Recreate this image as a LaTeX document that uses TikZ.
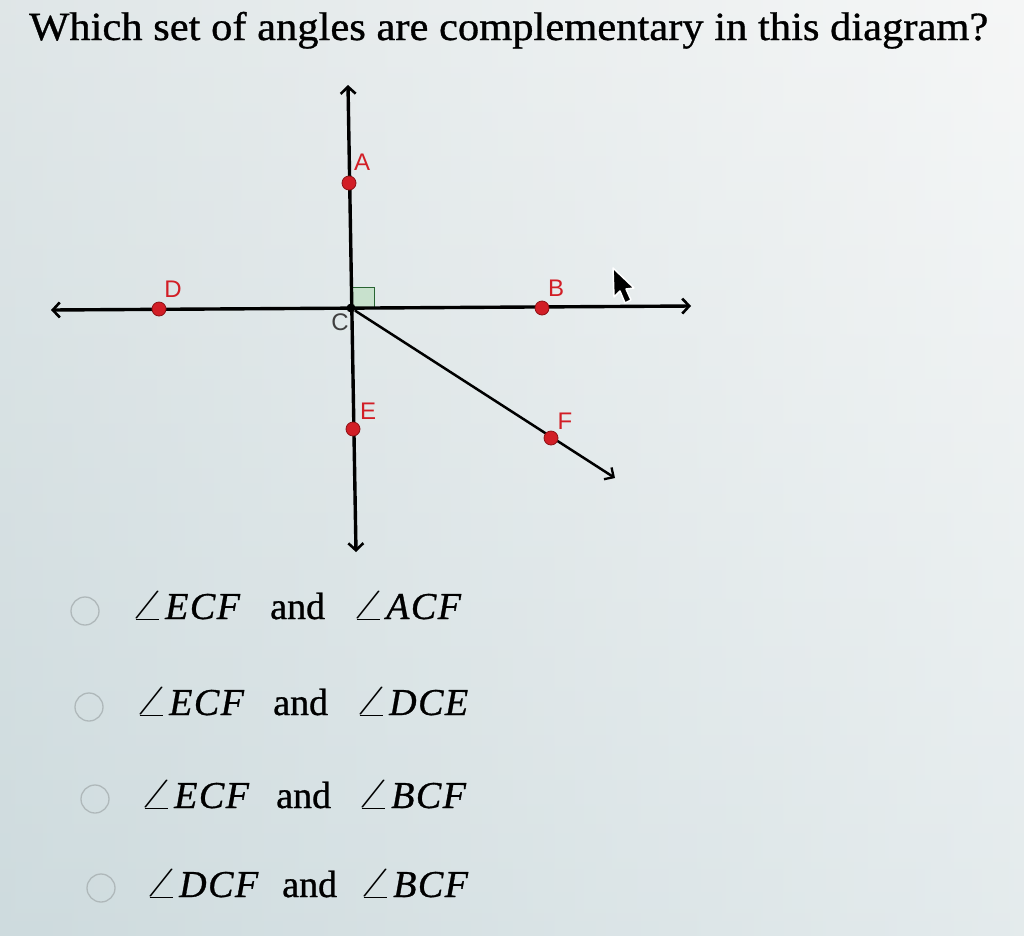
\documentclass[tikz,border=0pt]{standalone}
\usepackage{fontspec}
\setmainfont{Liberation Serif}
\newfontfamily\heavyfont{Liberation Serif}[FakeBold=0.8]
\newfontfamily\labelfont{Liberation Sans}
\usetikzlibrary{arrows.meta}
\definecolor{ptred}{RGB}{210,30,38}
\definecolor{ptdark}{RGB}{140,18,22}
\definecolor{bgtop}{RGB}{238,240,240}
\definecolor{bgbot}{RGB}{206,219,222}
\definecolor{boxfill}{RGB}{200,225,205}
\definecolor{boxline}{RGB}{40,100,50}
\definecolor{radio}{RGB}{175,184,186}
\newcommand{\angsym}{\resizebox{36pt}{27pt}{$\angle$}}
\tikzset{
  biaxis/.style={line width=3.4pt, {Straight Barb[length=7pt,width=15pt,line width=2.6pt]}-{Straight Barb[length=7pt,width=15pt,line width=2.6pt]}},
  rayline/.style={line width=2.5pt, -{Straight Barb[length=7pt,width=14pt,line width=2.3pt]}},
  pt/.style={circle, fill=ptred, draw=ptdark, line width=0.8pt, minimum size=14pt, inner sep=0pt},
  ptlabel/.style={font=\labelfont\fontsize{24}{24}\selectfont, text=ptred, inner sep=0pt},
  radiobtn/.style={circle, draw=radio, line width=1.3pt, minimum size=28pt, inner sep=0pt},
  opt/.style={font=\heavyfont\fontsize{38}{40}\selectfont, anchor=base west, inner sep=0pt},
}
\begin{document}
\begin{tikzpicture}[x=1pt,y=-1pt]
\useasboundingbox (0,0) rectangle (1024,935);
\shade[top color=bgtop, bottom color=bgbot] (0,0) rectangle (1024,935);
\shade[left color=bgbot, right color=white, opacity=0.45] (0,0) rectangle (1024,935);

% title
\node[anchor=base west, inner sep=0pt] (title) at (29,40)
  {\resizebox{959pt}{\height}{\heavyfont\fontsize{40}{42}\selectfont Which set of angles are complementary in this diagram?}};

% coordinates
\coordinate (top) at (348,85);
\coordinate (bot) at (356,552);
\coordinate (lft) at (51,310);
\coordinate (rgt) at (691,306);
\coordinate (rayend) at (615,478);

% right angle mark
\draw[boxline, fill=boxfill, line width=1pt] (351,308) -- (351,287) -- (374,287) -- (374,308);

% lines
\draw[biaxis] (lft) -- (rgt);
\draw[biaxis] (top) -- (bot);
\node[circle, fill=black, minimum size=9pt, inner sep=0pt] (C) at (351,308) {};
\draw[rayline] (C) -- (rayend);

% points
\node[pt] (A) at (349,183) {};
\node[pt] (D) at (159,309) {};
\node[pt] (B) at (542,308) {};
\node[pt] (E) at (353,429) {};
\node[pt] (F) at (551,438) {};

\node[ptlabel] (lA) at (362,162) {A};
\node[ptlabel] (lD) at (173,289) {D};
\node[ptlabel] (lB) at (556,288) {B};
\node[ptlabel] (lE) at (368,411) {E};
\node[ptlabel] (lF) at (565,421) {F};
\node[ptlabel, text=black!75] (lC) at (340,322) {C};

% cursor
\draw[fill=black, draw=white, line width=1.5pt, line join=round]
  (613,268) -- (614,297) -- (620,291) -- (625,303) -- (631,300) -- (626,289) -- (634,288) -- cycle;

% options
\node[radiobtn] (r1) at (85,611) {};
\node[radiobtn] (r2) at (89,707) {};
\node[radiobtn] (r3) at (95,799) {};
\node[radiobtn] (r4) at (101,888) {};

\node[opt] (o1a) at (129,619) {\angsym\kern0pt\textit{E\kern1.5pt C\kern1.5pt F}};
\node[opt] (o1b) at (270,619) {and};
\node[opt] (o1c) at (350,619) {\angsym\kern0pt\textit{A\kern1.5pt C\kern1.5pt F}};

\node[opt] (o2a) at (133,715) {\angsym\kern0pt\textit{E\kern1.5pt C\kern1.5pt F}};
\node[opt] (o2b) at (273,715) {and};
\node[opt] (o2c) at (353,715) {\angsym\kern0pt\textit{D\kern1.5pt C\kern1.5pt E}};

\node[opt] (o3a) at (138,808) {\angsym\kern0pt\textit{E\kern1.5pt C\kern1.5pt F}};
\node[opt] (o3b) at (276,808) {and};
\node[opt] (o3c) at (355,808) {\angsym\kern0pt\textit{B\kern1.5pt C\kern1.5pt F}};

\node[opt] (o4a) at (143,897) {\angsym\kern0pt\textit{D\kern1.5pt C\kern1.5pt F}};
\node[opt] (o4b) at (282,897) {and};
\node[opt] (o4c) at (357,897) {\angsym\kern0pt\textit{B\kern1.5pt C\kern1.5pt F}};
\end{tikzpicture}
\end{document}
